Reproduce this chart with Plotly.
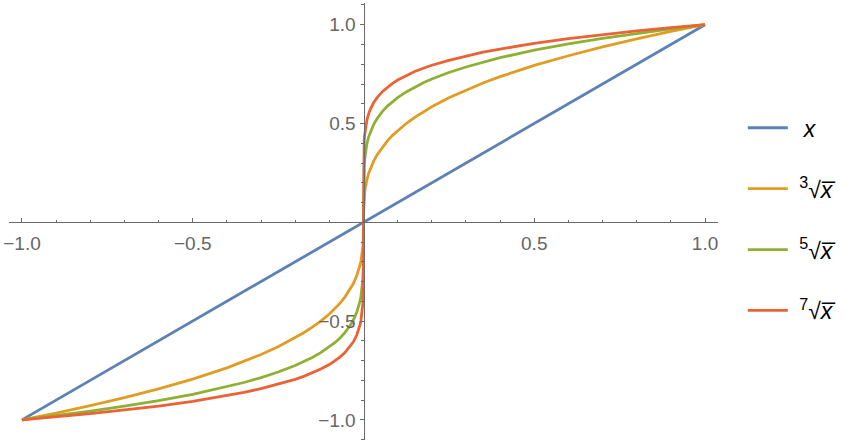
import plotly.graph_objects as go

# sample points (x from -1 to 1, denser near 0 where they turn vertical)
xs = [-1.0, -0.9, -0.8, -0.7, -0.6, -0.5, -0.4, -0.35, -0.3, -0.25, -0.2, -0.175, -0.15, -0.125,
      -0.1, -0.085, -0.07, -0.055, -0.04, -0.03, -0.02, -0.015, -0.01, -0.0075, -0.005, -0.003,
      -0.002, -0.001, -0.0005, -0.0001, -0.00002, 0.0,
      0.00002, 0.0001, 0.0005, 0.001, 0.002, 0.003, 0.005, 0.0075, 0.01, 0.015, 0.02, 0.03,
      0.04, 0.055, 0.07, 0.085, 0.1, 0.125, 0.15, 0.175, 0.2, 0.25, 0.3, 0.35, 0.4, 0.5, 0.6,
      0.7, 0.8, 0.9, 1.0]

root3 = [-1.0, -0.966, -0.928, -0.888, -0.843, -0.794, -0.737, -0.705, -0.669, -0.630, -0.585,
         -0.559, -0.531, -0.500, -0.464, -0.440, -0.412, -0.380, -0.342, -0.311, -0.271, -0.247,
         -0.215, -0.196, -0.171, -0.144, -0.126, -0.100, -0.079, -0.046, -0.027, 0.0,
         0.027, 0.046, 0.079, 0.100, 0.126, 0.144, 0.171, 0.196, 0.215, 0.247, 0.271, 0.311,
         0.342, 0.380, 0.412, 0.440, 0.464, 0.500, 0.531, 0.559, 0.585, 0.630, 0.669, 0.705,
         0.737, 0.794, 0.843, 0.888, 0.928, 0.966, 1.0]

root5 = [-1.0, -0.979, -0.956, -0.931, -0.903, -0.871, -0.833, -0.811, -0.786, -0.758, -0.725,
         -0.706, -0.684, -0.660, -0.631, -0.611, -0.588, -0.560, -0.525, -0.496, -0.457, -0.432,
         -0.398, -0.376, -0.347, -0.313, -0.288, -0.251, -0.219, -0.159, -0.115, 0.0,
         0.115, 0.159, 0.219, 0.251, 0.288, 0.313, 0.347, 0.376, 0.398, 0.432, 0.457, 0.496,
         0.525, 0.560, 0.588, 0.611, 0.631, 0.660, 0.684, 0.706, 0.725, 0.758, 0.786, 0.811,
         0.833, 0.871, 0.903, 0.931, 0.956, 0.979, 1.0]

root7 = [-1.0, -0.985, -0.969, -0.950, -0.930, -0.906, -0.877, -0.861, -0.842, -0.820, -0.795,
         -0.780, -0.763, -0.743, -0.720, -0.703, -0.684, -0.661, -0.631, -0.606, -0.572, -0.549,
         -0.518, -0.497, -0.469, -0.436, -0.412, -0.373, -0.338, -0.268, -0.213, 0.0,
         0.213, 0.268, 0.338, 0.373, 0.412, 0.436, 0.469, 0.497, 0.518, 0.549, 0.572, 0.606,
         0.631, 0.661, 0.684, 0.703, 0.720, 0.743, 0.763, 0.780, 0.795, 0.820, 0.842, 0.861,
         0.877, 0.906, 0.930, 0.950, 0.969, 0.985, 1.0]

x_line = [-1.0, 1.0]
y_line = [-1.0, 1.0]

names = ["<sup> </sup> <i>x</i>",
         " <sup>3</sup>√<i>x̅</i>",
         " <sup>5</sup>√<i>x̅</i>",
         " <sup>7</sup>√<i>x̅</i>"]
colors = ["#5E81B5", "#E19C24", "#8FB032", "#EB6235"]

tick_vals = [-1.0, -0.5, 0.5, 1.0]
tick_text = ["−1.0", "−0.5", "0.5", "1.0"]

fig = go.Figure()
series = [(x_line, y_line), (xs, root3), (xs, root5), (xs, root7)]
for i, (sx, sy) in enumerate(series):
    fig.add_trace(go.Scatter(x=sx, y=sy, mode="lines", name=names[i],
                             legendgroup=str(i),
                             line=dict(color=colors[i], width=2.8)))

axis_font = dict(family="Liberation Sans, Arial, sans-serif", size=19, color="#666666")
axis_col = "#6b6b6b"

fig.update_layout(
    width=862, height=446,
    margin=dict(l=6, r=144, t=3, b=6),
    plot_bgcolor="white", paper_bgcolor="white",
    xaxis=dict(range=[-1.038, 1.038], anchor="free", position=0.4982,
               showgrid=False, zeroline=False, showline=True, linecolor=axis_col, linewidth=1,
               tickmode="array", tickvals=tick_vals, ticktext=tick_text,
               ticks="inside", ticklen=4, tickcolor=axis_col, tickfont=axis_font,
               ticklabelstandoff=4, ticklabeloverflow="allow",
               minor=dict(tickmode="linear", tick0=0, dtick=0.1, ticks="inside",
                          ticklen=2.5, tickcolor=axis_col, showgrid=False)),
    yaxis=dict(range=[-1.102, 1.110], anchor="free", position=0.5,
               showgrid=False, zeroline=False, showline=True, linecolor=axis_col, linewidth=1,
               tickmode="array", tickvals=tick_vals, ticktext=tick_text,
               ticks="outside", ticklen=4, tickcolor=axis_col, tickfont=axis_font,
               ticklabeloverflow="allow",
               minor=dict(tickmode="linear", tick0=0, dtick=0.1, ticks="outside",
                          ticklen=2.5, tickcolor=axis_col, showgrid=False)),
    legend=dict(x=1.035, xanchor="left", y=0.505, yanchor="middle",
                font=dict(family="Liberation Sans, Arial, sans-serif", size=23, color="black"),
                itemwidth=40, tracegroupgap=28, bgcolor="rgba(0,0,0,0)"),
)

# drop the page's default 8px body margin so the figure sits at the window corner
fig.write_html("out.html", config={"displayModeBar": False},
               post_script="document.body.style.margin = '0px';")
